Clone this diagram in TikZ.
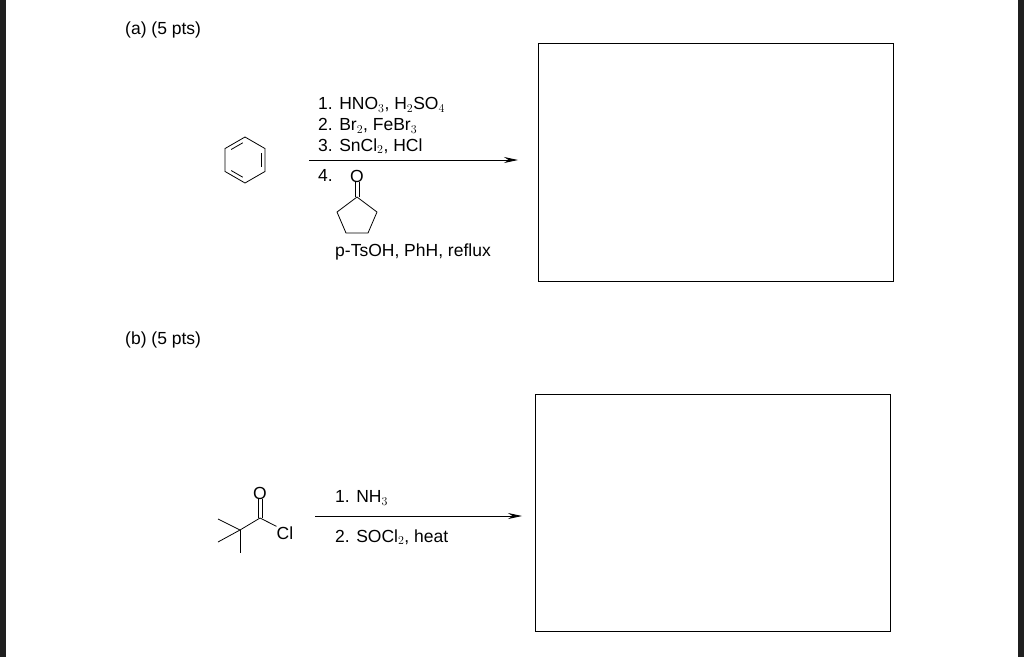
\documentclass[tikz,border=0pt]{standalone}
\usepackage{fontspec}
\setmainfont{Liberation Sans}
\usetikzlibrary{arrows.meta,calc}
\begin{document}
\begin{tikzpicture}[x=1pt,y=-1pt,
  txt/.style={anchor=west,inner sep=0pt,font=\fontsize{17.5}{20}\selectfont},
  box/.style={draw,line width=0.8pt},
  bond/.style={line width=0.8pt},
  rxn/.style={line width=0.8pt,-{Stealth[length=14pt,width=6pt]}}]
\useasboundingbox (0,0) rectangle (1024,657);
\fill[black!88] (0,0) rectangle (6,657);
\fill[black!88] (1018,0) rectangle (1024,657);
\node[txt] (la) at (125,30) {(a) (5 pts)};
\node[txt] (lb) at (125,340) {(b) (5 pts)};
\node[box,minimum width=355pt,minimum height=238pt,anchor=north west] (ba) at (538,43) {};
\node[box,minimum width=355pt,minimum height=237pt,anchor=north west] (bb) at (535,394) {};
% benzene
\foreach \i in {0,...,5}{
  \coordinate (v\i) at ($(245,160)+(90+60*\i:23)$);
  \coordinate (w\i) at ($(245,160)+(90+60*\i:18.5)$);}
\draw[bond] (v0)--(v1)--(v2)--(v3)--(v4)--(v5)--cycle;
\foreach \a/\b in {0/1,2/3,4/5}{\draw[bond] ($(w\a)!0.14!(w\b)$) -- ($(w\b)!0.14!(w\a)$);}
% arrow a
\coordinate (a1) at (309,160); \coordinate (a2) at (518,160);
\draw[rxn] (a1) -- (a2);
\node[txt] (t1) at (318,105) {1. HNO$_3$, H$_2$SO$_4$};
\node[txt] (t2) at (318,126) {2. Br$_2$, FeBr$_3$};
\node[txt] (t3) at (318,146) {3. SnCl$_2$, HCl};
\node[txt] (t4) at (318,175) {4.};
\node[txt,anchor=center] (O1) at (357,176) {O};
\coordinate (c0) at (357,197);
\coordinate (c1) at (377,212); \coordinate (c2) at (368,233);
\coordinate (c3) at (346,233); \coordinate (c4) at (337,212);
\draw[bond] (c0)--(c1)--(c2)--(c3)--(c4)--cycle;
\draw[bond] ($(c0)+(-2,0)$) -- ($(O1.south)+(-2,0)$);
\draw[bond] ($(c0)+(2,0)$) -- ($(O1.south)+(2,0)$);
\node[txt] (t5) at (335,252) {p-TsOH, PhH, reflux};
% part b
\coordinate (q) at (240,530);
\coordinate (m1) at (218,519); \coordinate (m2) at (218,542); \coordinate (m3) at (240,553);
\coordinate (cc) at (260,518);
\node[txt,anchor=center] (O2) at (260,493) {O};
\node[txt,anchor=center] (Cl) at (285,533) {Cl};
\draw[bond] (m1)--(q)--(m2); \draw[bond] (q)--(m3); \draw[bond] (q)--(cc)--(Cl.north west);
\draw[bond] ($(cc)+(-2,0)$) -- ($(O2.south)+(-2,0)$);
\draw[bond] ($(cc)+(2,0)$) -- ($(O2.south)+(2,0)$);
\coordinate (b1) at (315,516); \coordinate (b2) at (522,516);
\draw[rxn] (b1) -- (b2);
\node[txt] (u1) at (335,498) {1. NH$_3$};
\node[txt] (u2) at (335,537) {2. SOCl$_2$, heat};
\end{tikzpicture}
\end{document}
